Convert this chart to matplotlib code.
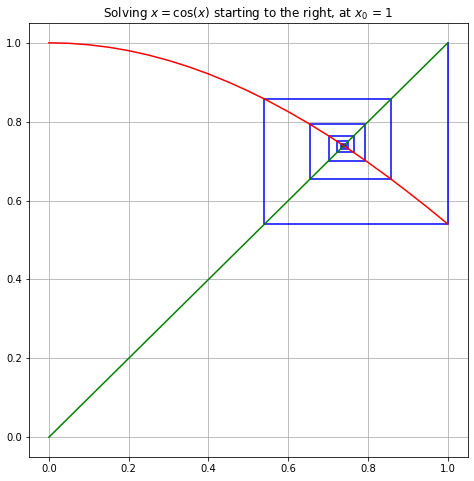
import matplotlib
matplotlib.use("Agg")
import matplotlib.pyplot as plt

# cos(x) curve sampled on [0, 1]
curve_x = [0.00, 0.05, 0.10, 0.15, 0.20, 0.25, 0.30, 0.35, 0.40, 0.45, 0.50,
           0.55, 0.60, 0.65, 0.70, 0.75, 0.80, 0.85, 0.90, 0.95, 1.00]
curve_y = [1.0000, 0.9988, 0.9950, 0.9888, 0.9801, 0.9689, 0.9553, 0.9394,
           0.9211, 0.9004, 0.8776, 0.8525, 0.8253, 0.7961, 0.7648, 0.7317,
           0.6967, 0.6600, 0.6216, 0.5817, 0.5403]

# identity line
line_x = [0.0, 1.0]
line_y = [0.0, 1.0]

# fixed-point iterates starting at x0 = 1
iterates = [1.0, 0.5403, 0.8576, 0.6543, 0.7935, 0.7014, 0.7640, 0.7221,
            0.7504, 0.7314, 0.7442, 0.7356, 0.7414, 0.7375, 0.7401, 0.7384,
            0.7396, 0.7388, 0.7393, 0.7389]

# build cobweb path
web_x = [iterates[0]]
web_y = [iterates[0]]
for nxt in iterates[1:]:
    web_x.append(web_x[-1]); web_y.append(nxt)
    web_x.append(nxt); web_y.append(nxt)

DPI = 72
fig = plt.figure(figsize=(474 / DPI, 481 / DPI), dpi=DPI)
ax = fig.add_axes([0.061, 0.050, 0.926, 0.902])
ax.plot(web_x, web_y, color="blue", lw=1.5)
ax.plot(curve_x, curve_y, color="red", lw=1.5)
ax.plot(line_x, line_y, color="green", lw=1.5)
ax.grid(True)
ax.set_title(r"Solving $x = \cos(x)$ starting to the right, at $x_0$ = 1")
fig.savefig("out.png", dpi=DPI)
